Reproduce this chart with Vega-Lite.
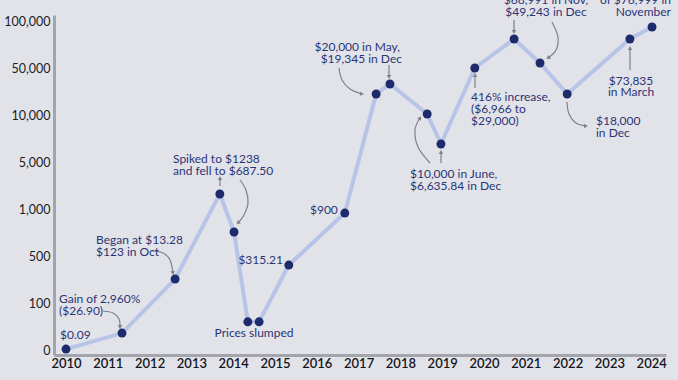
{
  "$schema": "https://vega.github.io/schema/vega-lite/v6.json",
  "width": 612,
  "height": 340,
  "autosize": {"type": "none"},
  "padding": {"left": 54, "top": 15, "right": 12, "bottom": 25},
  "background": "#e2e3e9",
  "config": {"view": {"stroke": null}, "font": "Lato"},
  "datasets": {
    "price": [
      {"year": 2010.0, "value": 2},
      {"year": 2011.34, "value": 36},
      {"year": 2012.61, "value": 304},
      {"year": 2013.68, "value": 2277},
      {"year": 2014.02, "value": 755},
      {"year": 2014.35, "value": 60},
      {"year": 2014.62, "value": 60},
      {"year": 2015.33, "value": 423},
      {"year": 2016.67, "value": 957},
      {"year": 2017.42, "value": 27872},
      {"year": 2017.75, "value": 36383},
      {"year": 2018.64, "value": 10851},
      {"year": 2018.97, "value": 6915},
      {"year": 2019.78, "value": 50000},
      {"year": 2020.72, "value": 80851},
      {"year": 2021.34, "value": 55319},
      {"year": 2021.99, "value": 27872},
      {"year": 2023.49, "value": 80851},
      {"year": 2024.02, "value": 93617}
    ],
    "notesLeft": [
      {"year": 2009.856, "value": 31.9, "t": "$0.09"},
      {"year": 2009.833, "value": 134, "t": "Gain of 2,960%"},
      {"year": 2009.833, "value": 83, "t": "($26.90)"},
      {"year": 2010.718, "value": 670, "t": "Began at $13.28"},
      {"year": 2010.718, "value": 543, "t": "$123 in Oct"},
      {"year": 2012.56, "value": 5319, "t": "Spiked to $1238"},
      {"year": 2012.56, "value": 4234, "t": "and fell to $687.50"},
      {"year": 2015.837, "value": 989, "t": "$900"},
      {"year": 2018.23, "value": 3979, "t": "$10,000 in June,"},
      {"year": 2018.23, "value": 2957, "t": "$6,635.84 in Dec"},
      {"year": 2019.689, "value": 25319, "t": "416% increase,"},
      {"year": 2019.689, "value": 15106, "t": "($6,966 to"},
      {"year": 2019.689, "value": 9362, "t": "$29,000)"},
      {"year": 2022.679, "value": 9362, "t": "$18,000"},
      {"year": 2022.679, "value": 8085, "t": "in Dec"}
    ],
    "notesCenter": [
      {"year": 2014.498, "value": 36.2, "t": "Prices slumped"},
      {"year": 2021.483, "value": 122340, "t": "$68,991 in Nov,"},
      {"year": 2021.483, "value": 109574, "t": "$49,243 in Dec"},
      {"year": 2023.517, "value": 38936, "t": "$73,835"},
      {"year": 2023.517, "value": 29574, "t": "in March"}
    ],
    "notesRight": [
      {"year": 2015.191, "value": 466, "t": "$315.21"},
      {"year": 2017.99, "value": 72340, "t": "$20,000 in May,"},
      {"year": 2018.038, "value": 59574, "t": "$19,345 in Dec"},
      {"year": 2024.473, "value": 122340, "t": "of $76,999 in"},
      {"year": 2024.473, "value": 109574, "t": "November"}
    ],
    "arrows": [
      {"id": 1, "i": 0, "year": 2010.885, "value": 83},
      {"id": 1, "i": 1, "year": 2011.124, "value": 78.7},
      {"id": 1, "i": 2, "year": 2011.268, "value": 66},
      {"id": 1, "i": 3, "year": 2011.292, "value": 49},
      {"id": 2, "i": 0, "year": 2012.057, "value": 553},
      {"id": 2, "i": 1, "year": 2012.321, "value": 532},
      {"id": 2, "i": 2, "year": 2012.488, "value": 466},
      {"id": 2, "i": 3, "year": 2012.56, "value": 355},
      {"id": 3, "i": 0, "year": 2013.684, "value": 2957},
      {"id": 3, "i": 1, "year": 2013.684, "value": 3638},
      {"id": 4, "i": 0, "year": 2014.163, "value": 3468},
      {"id": 4, "i": 1, "year": 2014.306, "value": 2617},
      {"id": 4, "i": 2, "year": 2014.354, "value": 1511},
      {"id": 4, "i": 3, "year": 2014.258, "value": 936},
      {"id": 4, "i": 4, "year": 2014.115, "value": 851},
      {"id": 5, "i": 0, "year": 2016.531, "value": 50000},
      {"id": 5, "i": 1, "year": 2016.603, "value": 39787},
      {"id": 5, "i": 2, "year": 2016.794, "value": 32128},
      {"id": 5, "i": 3, "year": 2017.081, "value": 27872},
      {"id": 6, "i": 0, "year": 2017.727, "value": 53191},
      {"id": 6, "i": 1, "year": 2017.727, "value": 42340},
      {"id": 7, "i": 0, "year": 2018.708, "value": 4915},
      {"id": 7, "i": 1, "year": 2018.421, "value": 6596},
      {"id": 7, "i": 2, "year": 2018.349, "value": 8404},
      {"id": 7, "i": 3, "year": 2018.469, "value": 9681},
      {"id": 8, "i": 0, "year": 2018.971, "value": 4915},
      {"id": 8, "i": 1, "year": 2018.971, "value": 6064},
      {"id": 9, "i": 0, "year": 2019.785, "value": 32979},
      {"id": 9, "i": 1, "year": 2019.785, "value": 44042},
      {"id": 10, "i": 0, "year": 2020.718, "value": 101064},
      {"id": 10, "i": 1, "year": 2020.718, "value": 88298},
      {"id": 11, "i": 0, "year": 2021.627, "value": 98935},
      {"id": 11, "i": 1, "year": 2021.77, "value": 82978},
      {"id": 11, "i": 2, "year": 2021.723, "value": 69148},
      {"id": 11, "i": 3, "year": 2021.531, "value": 60638},
      {"id": 12, "i": 0, "year": 2023.493, "value": 48298},
      {"id": 12, "i": 1, "year": 2023.493, "value": 71276},
      {"id": 13, "i": 0, "year": 2021.985, "value": 21064},
      {"id": 13, "i": 1, "year": 2022.033, "value": 10851},
      {"id": 13, "i": 2, "year": 2022.201, "value": 9149},
      {"id": 13, "i": 3, "year": 2022.44, "value": 8830}
    ],
    "heads": [
      {"year": 2011.292, "value": 49, "deg": 180},
      {"year": 2012.56, "value": 355, "deg": 170},
      {"year": 2013.684, "value": 3638, "deg": 0},
      {"year": 2014.115, "value": 851, "deg": 225},
      {"year": 2017.081, "value": 27872, "deg": 100},
      {"year": 2017.727, "value": 42340, "deg": 180},
      {"year": 2018.469, "value": 9681, "deg": 30},
      {"year": 2018.971, "value": 6064, "deg": 0},
      {"year": 2019.785, "value": 44042, "deg": 0},
      {"year": 2020.718, "value": 88298, "deg": 180},
      {"year": 2021.531, "value": 60638, "deg": 235},
      {"year": 2023.493, "value": 71276, "deg": 0},
      {"year": 2022.44, "value": 8830, "deg": 90}
    ]
  },
  "encoding": {
    "x": {
      "field": "year",
      "type": "quantitative",
      "scale": {"domain": [2009.713, 2024.354], "nice": false, "zero": false},
      "axis": {
        "values": [2010, 2011, 2012, 2013, 2014, 2015, 2016, 2017, 2018, 2019, 2020, 2021, 2022, 2023, 2024],
        "labelExpr": "format(datum.value, 'd')",
        "title": null,
        "ticks": false,
        "grid": false,
        "domainColor": "#a3a4ac",
        "domainWidth": 3,
        "labelFontSize": 13,
        "labelFontWeight": 600,
        "labelColor": "#15161c",
        "labelPadding": 2,
        "labelFlush": false
      }
    },
    "y": {
      "field": "value",
      "type": "quantitative",
      "scale": {
        "domain": [-10.64, 0, 100, 500, 1000, 5000, 10000, 50000, 100000, 106383],
        "range": [340, 335, 288, 241, 194, 147, 100, 53, 6, 0],
        "nice": false,
        "zero": false
      },
      "axis": {
        "values": [0, 100, 500, 1000, 5000, 10000, 50000, 100000],
        "labelExpr": "format(datum.value, ',')",
        "title": null,
        "ticks": false,
        "grid": false,
        "domainColor": "#a3a4ac",
        "domainWidth": 3,
        "labelFontSize": 12.5,
        "labelColor": "#1c1d24",
        "labelPadding": 4
      }
    }
  },
  "layer": [
    {
      "data": {"name": "arrows"},
      "mark": {"type": "line", "interpolate": "cardinal", "color": "#7f818a", "strokeWidth": 1.2},
      "encoding": {"detail": {"field": "id"}, "order": {"field": "i"}}
    },
    {
      "data": {"name": "heads"},
      "mark": {"type": "point", "shape": "triangle-up", "size": 20, "filled": true, "color": "#7f818a", "opacity": 1},
      "encoding": {"angle": {"field": "deg", "type": "quantitative", "scale": null}}
    },
    {
      "data": {"name": "price"},
      "mark": {"type": "line", "color": "#b8c3e8", "strokeWidth": 4},
      "encoding": {}
    },
    {
      "data": {"name": "price"},
      "mark": {"type": "circle", "size": 80, "color": "#1d2a6c", "opacity": 1},
      "encoding": {}
    },
    {
      "data": {"name": "notesLeft"},
      "mark": {"type": "text", "align": "left", "baseline": "middle", "fontSize": 12, "color": "#2b3576"},
      "encoding": {"text": {"field": "t"}}
    },
    {
      "data": {"name": "notesCenter"},
      "mark": {"type": "text", "align": "center", "baseline": "middle", "fontSize": 12, "color": "#2b3576"},
      "encoding": {"text": {"field": "t"}}
    },
    {
      "data": {"name": "notesRight"},
      "mark": {"type": "text", "align": "right", "baseline": "middle", "fontSize": 12, "color": "#2b3576"},
      "encoding": {"text": {"field": "t"}}
    }
  ]
}
